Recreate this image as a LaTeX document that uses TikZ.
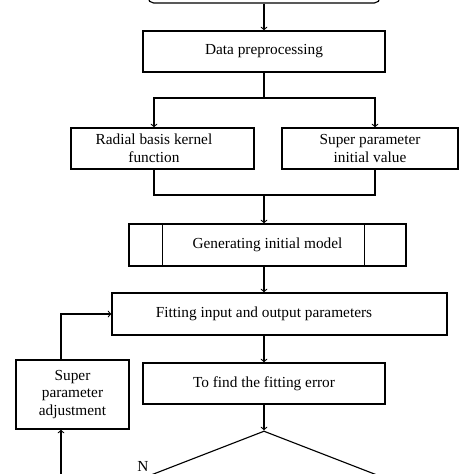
\documentclass[tikz,border=0pt]{standalone}
\usepackage{fontspec}
\setmainfont{Liberation Serif}
\usetikzlibrary{shapes.geometric}

\begin{document}
\begin{tikzpicture}[thick, font=\fontsize{10.9}{12.5}\selectfont,
    box/.style={rectangle, draw, inner sep=0pt, align=center}]
    \useasboundingbox (0,0) rectangle (11.85,-11.85);
    \path
        (6.6,0.425) node(start)[box, rounded corners=4pt, minimum width=5.8cm, minimum height=1cm]{}
        (6.6,-1.2875) node(prep)[box, minimum width=6.05cm, minimum height=1.025cm]{Data preprocessing}
        (4.0625,-3.7125) node(rbf)[box, minimum width=4.575cm, minimum height=1.025cm]{}
        (3.85,-3.7125) node(rbftext)[align=center]{Radial basis kernel\\function}
        (9.25,-3.7125) node(init)[box, minimum width=4.4cm, minimum height=1.025cm]{Super parameter\\initial value}
        (6.6875,-6.125) node(model)[box, minimum width=6.925cm, minimum height=1.05cm]{Generating initial model}
        (6.9875,-7.85) node(fit)[box, minimum width=8.375cm, minimum height=1.05cm]{}
        (6.6,-7.85) node(fittext){Fitting input and output parameters}
        (6.6,-9.5875) node(err)[box, minimum width=6.05cm, minimum height=1.025cm]{To find the fitting error}
        (6.6,-11.95) node(judge)[diamond, draw, inner sep=0pt, minimum width=6.05cm, minimum height=2.35cm]{}
        (1.8125,-9.8625) node(adjust)[box, minimum width=2.825cm, minimum height=1.725cm]{Super\\parameter\\adjustment}
        (3.575,-11.65) node(no){N};
    \coordinate (split) at (6.6,-2.45);
    \coordinate (merge) at (6.6,-4.875);
    \draw [->] (start) -- (prep);
    \draw (prep) -- (split);
    \draw [->] (split) -| (rbftext |- rbf.north);
    \draw [->] (split) -| ([xshift=0.125cm]init.north);
    \draw (rbftext |- rbf.south) |- (merge) -| ([xshift=0.125cm]init.south);
    \draw [->] (merge) -- (merge |- model.north);
    \draw ([xshift=0.85cm]model.north west) -- ([xshift=0.85cm]model.south west);
    \draw ([xshift=-1.05cm]model.north east) -- ([xshift=-1.05cm]model.south east);
    \draw [->] (merge |- model.south) -- (merge |- fit.north);
    \draw [->] (err |- fit.south) -- (err);
    \draw [->] (err) -- (judge);
    \draw [->] (judge.west) -| ([xshift=-0.2875cm]adjust.south);
    \draw [->] ([xshift=-0.2875cm]adjust.north) |- (fit.west);
\end{tikzpicture}
\end{document}
